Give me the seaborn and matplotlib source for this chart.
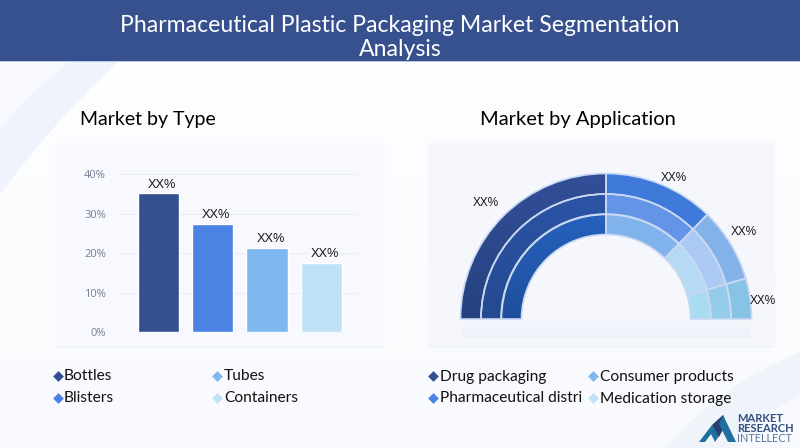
import numpy as np
import pandas as pd
import matplotlib
matplotlib.use('Agg')
import matplotlib.pyplot as plt
import seaborn as sns
from matplotlib.patches import Rectangle, Polygon, PathPatch
from matplotlib.path import Path

# --- data ---
types = ['Bottles', 'Blisters', 'Tubes', 'Containers']
type_share = [35.1, 27.4, 21.2, 17.5]
type_colors = ['#33508f', '#4a83e4', '#7db8f0', '#bfe2f8']
ticks = [0, 10, 20, 30, 40]
tick_labels = ['0%', '10%', '20%', '30%', '40%']

apps = ['Drug packaging', 'Pharmaceutical distri', 'Consumer products', 'Medication storage']
app_share = [50, 24.5, 16.5, 9]
app_legend_colors = ['#33508f', '#4a83e4', '#7db8f0', '#bfe2f8']
ring_outer = ['#2d4b90', '#3f79da', '#83b2e9', '#86c3e5']
ring_mid = ['#2a54a6', '#6394e6', '#abc9f3', '#93cdea']
ring_inner = ['#2a65c2', '#80b3ec', '#b6d9f4', '#a9dcf1']
# first segment fades from bottom to top in each ring
fade_outer = ['#264280', '#324f98']
fade_mid = ['#244a90', '#2c56aa']
fade_inner = ['#1f4f9c', '#2a69cc']

sns.set_theme(style='white')
plt.rcParams['font.family'] = ['Lato', 'DejaVu Sans']

W, H = 800, 448
fig = plt.figure(figsize=(8, 4.48), dpi=100, facecolor='white')


def px_axes(x0, y0, x1, y1):
    # axes placed by pixel box, y counted from the top
    return fig.add_axes([x0 / W, 1 - y1 / H, (x1 - x0) / W, (y1 - y0) / H])


def swoosh(axis, p0, c0, p1, p2, color):
    # curved corner shape for the pale background
    verts = [p0, c0, p1, p2, p0]
    codes = [Path.MOVETO, Path.CURVE3, Path.CURVE3, Path.LINETO, Path.CLOSEPOLY]
    axis.add_patch(PathPatch(Path(verts, codes), fc=color, ec='none', zorder=1))


def grad(name, pair):
    return matplotlib.colors.LinearSegmentedColormap.from_list(name, pair)


# --- background and panels, in pixel coordinates ---
bg = fig.add_axes([0, 0, 1, 1], zorder=0)
bg.set_xlim(0, W)
bg.set_ylim(H, 0)
bg.axis('off')
shade = np.linspace(0, 1, 100).reshape(-1, 1)
bg.imshow(shade, extent=[0, W, H, 0], aspect='auto', cmap=grad('bg', ['#ffffff', '#f8fafd']), zorder=0)
swoosh(bg, (118, 62), (50, 125), (0, 195), (0, 62), '#eff3fc')
swoosh(bg, (70, 62), (25, 95), (0, 130), (0, 62), '#f7f9fe')
swoosh(bg, (800, 352), (720, 385), (665, 448), (800, 448), '#eff3fa')
swoosh(bg, (800, 395), (765, 410), (735, 448), (800, 448), '#f7f9fd')
bg.add_patch(Rectangle((0, 0), W, 61, fc='#37518f', ec='none', zorder=2))
bg.add_patch(Rectangle((0, 61), W, 1.5, fc='#b9c8e2', ec='none', zorder=2))
bg.add_patch(Rectangle((57, 345), 326, 3, fc='#f0f3f9', ec='none', zorder=2))
bg.add_patch(Rectangle((55, 143), 330, 203, fc='#f7f9fe', ec='none', zorder=3))
bg.add_patch(Rectangle((430, 345), 344, 3, fc='#f0f3f9', ec='none', zorder=2))
bg.add_patch(Rectangle((428, 143), 347, 203, fc='#f5f7fd', ec='none', zorder=3))
# soft shade under the half donut
bg.imshow(shade, extent=[462, 750, 338, 319], aspect='auto',
          cmap=grad('sh', ['#f5f7fd', '#eef1f8']), zorder=3.5)
bg.set_xlim(0, W)
bg.set_ylim(H, 0)

bg.text(400, 25, 'Pharmaceutical Plastic Packaging Market Segmentation', color='white',
        fontsize=16.6, ha='center', va='center', zorder=5)
bg.text(400, 49, 'Analysis', color='white', fontsize=16.6, ha='center', va='center', zorder=5)
bg.text(80, 119, 'Market by Type', color='black', fontsize=14, va='center', zorder=5)
bg.text(480, 119, 'Market by Application', color='black', fontsize=14.5, va='center', zorder=5)

# --- bar chart ---
ax = px_axes(120, 174, 358, 332)
ax.patch.set_alpha(0)
df = pd.DataFrame({'type': types, 'share': type_share})
sns.barplot(data=df, x='type', y='share', hue='type', palette=type_colors, width=0.76,
            legend=False, ax=ax, saturation=1, zorder=3)
for c in ax.containers:
    for t in ax.bar_label(c, labels=['XX%'], fontsize=9.2, padding=2, family='Liberation Sans', color='#1a1a1a'):
        t.xyann = (2.5, 2)
ax.set_xlim(-0.704, 3.67)
ax.set_ylim(0, 40)
ax.set_yticks(ticks)
ax.set_yticklabels(tick_labels, fontsize=8, color='#767e93', family='Open Sans')
ax.set_xticks([])
ax.set_xlabel('')
ax.set_ylabel('')
ax.tick_params(axis='y', length=0, pad=10)
ax.grid(axis='y', color='#e9edf6', lw=0.8, zorder=0)
ax.set_axisbelow(True)
sns.despine(ax=ax, left=True, bottom=True)

# --- half donut, drawn with pie; the lower half stays hidden ---
pie_ax = px_axes(456, 169, 756, 469)
pie_ax.patch.set_alpha(0)
for radius, colors, fade in zip([145.5, 125, 105], [ring_outer, ring_mid, ring_inner],
                                [fade_outer, fade_mid, fade_inner]):
    wedges, _ = pie_ax.pie(app_share + [sum(app_share)], radius=radius, startangle=180,
                           counterclock=False, colors=colors + ['none'],
                           wedgeprops=dict(width=20.5, edgecolor='none'))
    wedges[-1].set_visible(False)
    img = pie_ax.imshow(shade, extent=[-150, 0, 0, 150], origin='lower', aspect='auto',
                        cmap=grad('f', fade), zorder=2)
    img.set_clip_path(wedges[0])
# separators go on top of the faded segment
for radius in [145.5, 125, 105]:
    lines, _ = pie_ax.pie(app_share + [sum(app_share)], radius=radius, startangle=180,
                          counterclock=False, colors=['none'] * 5,
                          wedgeprops=dict(width=20.5, edgecolor='#c9d8f3', linewidth=1.2, zorder=4))
    lines[-1].set_visible(False)
pie_ax.set_xlim(-150, 150)
pie_ax.set_ylim(-150, 150)

# --- overlay: donut labels, legends, logo ---
top = fig.add_axes([0, 0, 1, 1], zorder=10)
top.set_xlim(0, W)
top.set_ylim(H, 0)
top.axis('off')
for (x, y) in [(486, 203), (674, 178), (744, 232), (763, 301)]:
    top.text(x, y, 'XX%', fontsize=8.5, ha='center', va='center', family='Liberation Sans', color='#1a1a1a')

for names, cols, mx, tx in [(types, type_colors, (57.5, 216.5), (64, 224)),
                            (apps, app_legend_colors, (432.5, 592.5), (440, 600))]:
    for i, (name, col) in enumerate(zip(names, cols)):
        col_i = i // 2
        y = 376 if i % 2 == 0 else 398
        top.scatter([mx[col_i]], [y + 0.5], marker='D', s=30, color=col, linewidths=0)
        top.text(tx[col_i], y + 0.5, name, fontsize=11.2, va='center', color='#111111')

top.add_patch(Polygon([(699, 442), (712, 425), (719, 436), (715, 442), (711, 434), (705, 442)], fc='#1f6f9f', ec='none'))
top.add_patch(Polygon([(712, 425), (723, 415), (726, 424), (719, 437)], fc='#26406f', ec='none'))
top.add_patch(Polygon([(723, 415), (736, 442), (728, 442), (719, 424)], fc='#1f6f9f', ec='none'))
top.text(737, 418.5, 'MARKET', fontsize=8, fontweight='bold', color='#33507f', va='center')
top.text(737, 429, 'RESEARCH', fontsize=8, fontweight='bold', color='#33507f', va='center')
top.text(737, 438.5, 'INTELLECT', fontsize=7.8, color='#5a7aa0', va='center')

fig.savefig('out.png', dpi=100)
